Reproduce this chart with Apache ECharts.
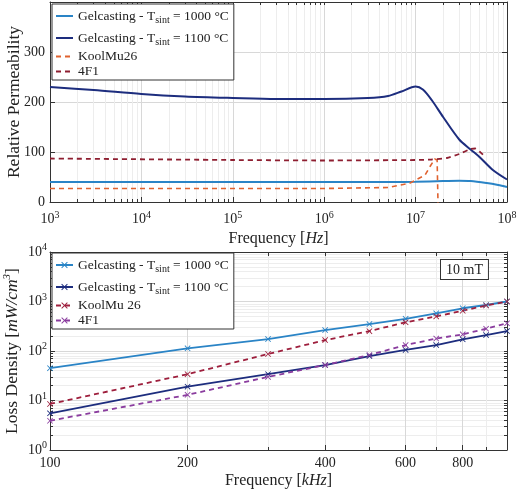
<!DOCTYPE html>
<html>
<head>
<meta charset="utf-8">
<script src="https://cdn.jsdelivr.net/npm/echarts@6/dist/echarts.min.js"></script>
<style>
html, body { margin: 0; background: #fff; }
#chart { width: 520px; height: 491px; }
</style>
</head>
<body>
<div id="chart"></div>
<script>
// top plot: relative permeability vs frequency [Hz]
const gel1000F = [1e3, 1e4, 1e5, 1e6, 5e6, 1e7, 2e7, 3e7, 4e7, 6e7, 8e7, 1e8];
const gel1000P = [40, 40, 40, 40, 40, 40.5, 42, 42.5, 42, 38, 34, 30];
const gel1100F = [1e3, 3e3, 1e4, 3e4, 1e5, 3e5, 1e6, 3e6, 5e6, 7e6, 1e7, 1.2e7, 1.5e7, 2e7, 3e7, 4e7, 5e7, 7e7, 1e8];
const gel1100P = [230, 224, 216, 211, 208, 206, 206, 208, 212, 221, 231, 225, 204, 170, 125, 105, 90, 64, 45];
const koolF = [1e3, 1e5, 1e6, 5e6, 8.7e6, 1.27e7, 1.45e7, 1.62e7, 1.72e7, 1.76e7];
const koolP = [27, 27, 27, 29, 38, 54, 72, 86, 84, -5];
const f4F1F = [1e3, 1e5, 1e6, 1e7, 1.5e7, 2.2e7, 3e7, 4e7, 4.5e7, 5e7, 5.8e7];
const f4F1P = [87, 84, 83, 84, 85, 88, 96, 106, 107, 101, 90];

// bottom plot: loss density vs frequency [kHz]
const lossFreq = [100, 200, 300, 400, 500, 600, 700, 800, 900, 1000];
const lossGel1000 = [45, 113, 174, 265, 350, 447, 577, 730, 850, 1000];
const lossGel1100 = [5.5, 19, 34, 52, 79, 105, 132, 172, 210, 253];
const lossKool = [8.5, 34, 87, 166, 252, 380, 500, 650, 830, 1000];
const loss4F1 = [3.9, 13, 30, 52, 83, 132, 178, 217, 282, 363];

const bottomXLabels = [100, 200, 400, 600, 800];
const bottomXMinor = [300, 500, 700, 900];

const labels = {
  ta: 'Gelcasting - T{sub|sint} = 1000 °C',
  tb: 'Gelcasting - T{sub|sint} = 1100 °C',
  tc: 'KoolMu26',
  td: '4F1',
  ba: 'Gelcasting - T{sub|sint} = 1000 °C',
  bb: 'Gelcasting - T{sub|sint} = 1100 °C',
  bc: 'KoolMu 26',
  bd: '4F1'
};

function pairs(xs, ys) { return xs.map((x, i) => [x, ys[i]]); }
function decadeMinors(from, to) {
  const out = [];
  for (let d = from; d < to; d *= 10) for (let k = 2; k <= 9; k++) out.push(k * d);
  return out;
}
function decades(from, to) {
  const out = [];
  for (let d = from; d <= to; d *= 10) out.push(d);
  return out;
}

const FONT = 'Liberation Serif';
const TXT = '#222';
const AXC = '#333';
const MAJ = '#d8d8d8';
const MIN = '#ededed';
const X_MARK = 'path://M0,1L1,0L5,4L9,0L10,1L6,5L10,9L9,10L5,6L1,10L0,9L4,5Z';

const supRich = { sup: { fontSize: 10, fontFamily: FONT, color: TXT, padding: [0, 0, 9, 0] } };
const pow10 = v => '10{sup|' + Math.round(Math.log10(v)) + '}';

const c1 = '#2a84c6', c2 = '#1d2d7e';
const chart = echarts.init(document.getElementById('chart'));

function legendCfg(names, top, noSymbol) {
  const lg = {
    data: names.map((n, i) => ({ name: n, textStyle: { lineHeight: i < 2 ? 22 : 15 } })),
    orient: 'vertical', left: 52, top: top,
    padding: [1, 5, 1, 3], itemGap: 0, itemWidth: 17, itemHeight: 8,
    backgroundColor: '#fff', borderColor: AXC, borderWidth: 1,
    formatter: n => labels[n],
    textStyle: {
      fontFamily: FONT, fontSize: 13.5, color: TXT,
      rich: { sub: { fontFamily: FONT, fontSize: 10, color: TXT, padding: [9, 0, 0, 0] } }
    }
  };
  if (noSymbol) lg.itemStyle = { opacity: 0 };
  return lg;
}

const option = {
  animation: false,
  backgroundColor: '#fff',
  textStyle: { fontFamily: FONT },
  grid: [
    { left: 50, top: 2, width: 457, height: 200, outerBoundsMode: 'none', containLabel: false },
    { left: 50, top: 252, width: 457, height: 198, outerBoundsMode: 'none', containLabel: false }
  ],
  legend: [
    legendCfg(['ta', 'tb', 'tc', 'td'], 4, true),
    legendCfg(['ba', 'bb', 'bc', 'bd'], 253, false)
  ],
  xAxis: [
    { // top plot major
      gridIndex: 0, type: 'log', logBase: 10, min: 1e3, max: 1e8, position: 'bottom',
      axisLine: { lineStyle: { color: AXC } },
      axisTick: { inside: true, length: 5, lineStyle: { color: AXC } },
      axisLabel: { formatter: pow10, margin: 8, fontSize: 14, color: TXT, fontFamily: FONT, rich: supRich },
      splitLine: { show: true, lineStyle: { color: MAJ } },
      name: 'Frequency [{i|Hz}]', nameLocation: 'middle', nameGap: 29, nameMoveOverlap: false,
      nameTextStyle: { fontSize: 16, color: TXT, fontFamily: FONT, rich: { i: { fontSize: 16, fontStyle: 'italic', fontFamily: FONT, color: TXT } } }
    },
    { // top plot minor
      gridIndex: 0, type: 'log', logBase: 10, min: 1e3, max: 1e8, position: 'bottom',
      axisLine: { show: false },
      axisTick: { inside: true, length: 3, customValues: decadeMinors(1e3, 1e8), lineStyle: { color: AXC } },
      axisLabel: { show: false },
      splitLine: { show: true, lineStyle: { color: MIN } }
    },
    { // top plot box top
      gridIndex: 0, type: 'log', logBase: 10, min: 1e3, max: 1e8, position: 'top',
      axisLine: { lineStyle: { color: AXC } },
      axisTick: { inside: true, length: 3, customValues: decadeMinors(1e3, 1e8).concat(decades(1e3, 1e8)), lineStyle: { color: AXC } },
      axisLabel: { show: false },
      splitLine: { show: false }
    },
    { // bottom plot major
      gridIndex: 1, type: 'log', logBase: 10, min: 100, max: 1000, position: 'bottom',
      axisLine: { lineStyle: { color: AXC } },
      axisTick: { inside: true, length: 5, customValues: bottomXLabels, lineStyle: { color: AXC } },
      axisLabel: { customValues: bottomXLabels, margin: 6, fontSize: 14, color: TXT, fontFamily: FONT },
      splitLine: { show: true, lineStyle: { color: MAJ } },
      name: 'Frequency [{i|kHz}]', nameLocation: 'middle', nameGap: 23, nameMoveOverlap: false,
      nameTextStyle: { fontSize: 16, color: TXT, fontFamily: FONT, rich: { i: { fontSize: 16, fontStyle: 'italic', fontFamily: FONT, color: TXT } } }
    },
    { // bottom plot minor
      gridIndex: 1, type: 'log', logBase: 10, min: 100, max: 1000, position: 'bottom',
      axisLine: { show: false },
      axisTick: { inside: true, length: 3, customValues: bottomXMinor, lineStyle: { color: AXC } },
      axisLabel: { show: false },
      splitLine: { show: true, lineStyle: { color: MIN } }
    },
    { // bottom plot box top
      gridIndex: 1, type: 'log', logBase: 10, min: 100, max: 1000, position: 'top',
      axisLine: { lineStyle: { color: AXC } },
      axisTick: { inside: true, length: 4, customValues: lossFreq, lineStyle: { color: AXC } },
      axisLabel: { show: false },
      splitLine: { show: false }
    }
  ],
  yAxis: [
    { // top plot
      gridIndex: 0, type: 'value', min: 0, max: 400, interval: 100, position: 'left',
      axisLine: { show: true, lineStyle: { color: AXC } },
      axisTick: { show: true, inside: true, length: 5, lineStyle: { color: AXC } },
      axisLabel: { showMaxLabel: false, margin: 5, fontSize: 14, color: TXT, fontFamily: FONT },
      splitLine: { show: true, lineStyle: { color: MAJ } },
      name: 'Relative Permeability', nameLocation: 'middle', nameGap: 27, nameMoveOverlap: false,
      nameTextStyle: { fontSize: 17.5, color: TXT, fontFamily: FONT }
    },
    { // top plot box right
      gridIndex: 0, type: 'value', min: 0, max: 400, interval: 100, position: 'right',
      axisLine: { show: true, lineStyle: { color: AXC } },
      axisTick: { show: true, inside: true, length: 5, lineStyle: { color: AXC } },
      axisLabel: { show: false }, splitLine: { show: false }
    },
    { // bottom plot major
      gridIndex: 1, type: 'log', logBase: 10, min: 1, max: 1e4, position: 'left',
      axisLine: { show: true, lineStyle: { color: AXC } },
      axisTick: { show: true, inside: true, length: 5, lineStyle: { color: AXC } },
      axisLabel: { formatter: pow10, margin: 3, fontSize: 14, color: TXT, fontFamily: FONT, rich: supRich },
      splitLine: { show: true, lineStyle: { color: MAJ } },
      name: 'Loss Density [{i|mW/cm}{sup|3}]', nameLocation: 'middle', nameGap: 27, nameMoveOverlap: false,
      nameTextStyle: {
        fontSize: 17.5, color: TXT, fontFamily: FONT,
        rich: {
          i: { fontSize: 17.5, fontStyle: 'italic', fontFamily: FONT, color: TXT },
          sup: { fontSize: 11, fontStyle: 'italic', fontFamily: FONT, color: TXT, padding: [0, 0, 10, 0] }
        }
      }
    },
    { // bottom plot minor
      gridIndex: 1, type: 'log', logBase: 10, min: 1, max: 1e4, position: 'left',
      axisLine: { show: false },
      axisTick: { show: true, inside: true, length: 3, customValues: decadeMinors(1, 1e4), lineStyle: { color: AXC } },
      axisLabel: { show: false },
      splitLine: { show: true, lineStyle: { color: MIN } }
    },
    { // bottom plot box right
      gridIndex: 1, type: 'log', logBase: 10, min: 1, max: 1e4, position: 'right',
      axisLine: { show: true, lineStyle: { color: AXC } },
      axisTick: { show: true, inside: true, length: 3, customValues: decadeMinors(1, 1e4).concat(decades(1, 1e4)), lineStyle: { color: AXC } },
      axisLabel: { show: false }, splitLine: { show: false }
    }
  ],
  graphic: [{
    type: 'text', left: 440, top: 259, z: 10,
    style: {
      text: '10 mT', font: '14px "Liberation Serif"', fill: TXT,
      backgroundColor: '#fff', borderColor: AXC, borderWidth: 1, padding: [3, 5, 2, 5]
    }
  }],
  series: [
    { name: 'ta', type: 'line', xAxisIndex: 0, yAxisIndex: 0, data: pairs(gel1000F, gel1000P), smooth: 0.3,
      symbol: 'none', lineStyle: { color: c1, width: 2 }, itemStyle: { color: c1 } },
    { name: 'tb', type: 'line', xAxisIndex: 0, yAxisIndex: 0, data: pairs(gel1100F, gel1100P), smooth: 0.3,
      symbol: 'none', lineStyle: { color: c2, width: 2 }, itemStyle: { color: c2 } },
    { name: 'tc', type: 'line', xAxisIndex: 0, yAxisIndex: 0, data: pairs(koolF, koolP),
      symbol: 'none', lineStyle: { color: '#e0622f', width: 1.6, type: [5, 4] }, itemStyle: { color: '#e0622f' } },
    { name: 'td', type: 'line', xAxisIndex: 0, yAxisIndex: 0, data: pairs(f4F1F, f4F1P), smooth: 0.2,
      symbol: 'none', lineStyle: { color: '#8e1e30', width: 1.8, type: [5, 4] }, itemStyle: { color: '#8e1e30' } },

    { name: 'ba', type: 'line', xAxisIndex: 3, yAxisIndex: 2, data: pairs(lossFreq, lossGel1000),
      symbol: X_MARK, symbolSize: 6, lineStyle: { color: c1, width: 1.8 }, itemStyle: { color: c1 } },
    { name: 'bb', type: 'line', xAxisIndex: 3, yAxisIndex: 2, data: pairs(lossFreq, lossGel1100),
      symbol: X_MARK, symbolSize: 6, lineStyle: { color: c2, width: 1.8 }, itemStyle: { color: c2 } },
    { name: 'bc', type: 'line', xAxisIndex: 3, yAxisIndex: 2, data: pairs(lossFreq, lossKool),
      symbol: X_MARK, symbolSize: 6, lineStyle: { color: '#9e1f3d', width: 1.8, type: [5, 4] }, itemStyle: { color: '#9e1f3d' } },
    { name: 'bd', type: 'line', xAxisIndex: 3, yAxisIndex: 2, data: pairs(lossFreq, loss4F1),
      symbol: X_MARK, symbolSize: 6, lineStyle: { color: '#8a3c9e', width: 1.8, type: [5, 4] }, itemStyle: { color: '#8a3c9e' } }
  ]
};

chart.setOption(option);
</script>
</body>
</html>
